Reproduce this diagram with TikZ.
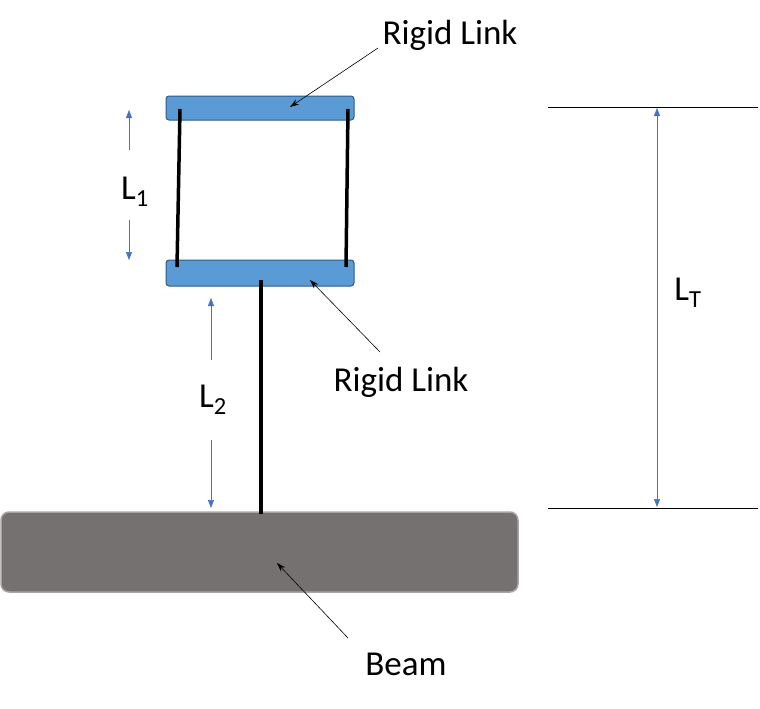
\documentclass[tikz,border=0pt]{standalone}
\usepackage{fontspec}
\setmainfont{Carlito}
\usetikzlibrary{arrows.meta}
\definecolor{linkblue}{HTML}{5B9BD5}
\definecolor{linkedge}{HTML}{2E5A85}
\definecolor{beamfill}{HTML}{767171}
\definecolor{beamedge}{HTML}{A6A6A6}
\definecolor{dimblue}{HTML}{4472C4}
\tikzset{
 x=1pt,y=-1pt,
 link/.style={draw=linkedge,fill=linkblue,rounded corners=3pt,line width=1pt},
 bar/.style={line width=3.5pt,black},
 dim/.style={draw=dimblue,line width=0.5pt,-{Triangle[length=8pt,width=6pt]}},
 dimb/.style={draw=dimblue,line width=0.5pt,{Triangle[length=8pt,width=6pt]}-{Triangle[length=8pt,width=6pt]}},
 lbl/.style={font=\fontsize{35}{40}\selectfont,inner sep=0pt},
 pointer/.style={draw=black,line width=0.6pt,-{Stealth[length=9pt,width=6pt]}}
}
\begin{document}
\begin{tikzpicture}
\useasboundingbox (0,0) rectangle (760,709);
\draw[link] (166,96) rectangle (354,120);
\draw[link] (166,260) rectangle (354,286);
\draw[draw=beamedge,fill=beamfill,rounded corners=8pt,line width=1.5pt] (1,512) rectangle (518,592);
\coordinate (tl) at (180,109); \coordinate (bl) at (177,267);
\coordinate (tr) at (348,109); \coordinate (br) at (346,267);
\draw[bar] (tl) -- (bl);
\draw[bar] (tr) -- (br);
\coordinate (rt) at (261,280); \coordinate (rb) at (261,514);
\draw[bar] (rt) -- (rb);
% L1
\coordinate (a1) at (129,150); \coordinate (a1e) at (129,110);
\coordinate (a2) at (129,220); \coordinate (a2e) at (129,260);
\draw[dim] (a1) -- (a1e); \draw[dim] (a2) -- (a2e);
\node[lbl] (L1) at (135,192) {L\textsubscript{1}};
% L2
\coordinate (b1) at (211,360); \coordinate (b1e) at (211,298);
\coordinate (b2) at (211,440); \coordinate (b2e) at (211,508);
\draw[dim] (b1) -- (b1e); \draw[dim] (b2) -- (b2e);
\node[lbl] (L2) at (213,400) {L\textsubscript{2}};
% LT
\coordinate (h1a) at (548,107); \coordinate (h1b) at (758,107);
\coordinate (h2a) at (548,508); \coordinate (h2b) at (758,508);
\draw[line width=0.6pt] (h1a) -- (h1b); \draw[line width=0.6pt] (h2a) -- (h2b);
\coordinate (t1) at (657,108); \coordinate (t2) at (657,507);
\draw[dimb] (t1) -- (t2);
\node[lbl] (LT) at (688,293) {L\textsubscript{T}};
% labels
\node[lbl] (rl1) at (450,35) {Rigid Link};
\coordinate (p1s) at (378,48); \coordinate (p1e) at (290,107);
\draw[pointer] (p1s) -- (p1e);
\node[lbl] (rl2) at (401,382) {Rigid Link};
\coordinate (p2s) at (380,352); \coordinate (p2e) at (310,280);
\draw[pointer] (p2s) -- (p2e);
\node[lbl] (bm) at (406,664) {Beam};
\coordinate (p3s) at (348,638); \coordinate (p3e) at (277,563);
\draw[pointer] (p3s) -- (p3e);
\end{tikzpicture}
\end{document}
